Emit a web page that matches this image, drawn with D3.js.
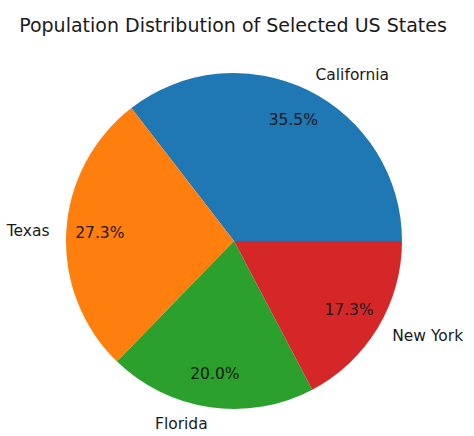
<!DOCTYPE html>
<html>
<head>
<meta charset="utf-8">
<script src="https://cdn.jsdelivr.net/npm/d3@7"></script>
<style>
  body { margin: 0; background: #fff; }
  svg text { font-family: "DejaVu Sans", sans-serif; fill: #1a1a1a; }
</style>
</head>
<body>
<div id="chart"></div>
<script>
// data
const states = ['California', 'Texas', 'Florida', 'New York'];
const shares = [35.5, 27.3, 20.0, 17.3];
const colors = ['#1f77b4', '#ff7f0e', '#2ca02c', '#d62728'];

const WIDTH = 474;
const HEIGHT = 436;
const CX = 234;
const CY = 241;
const R = 168;

const data = states.map((s, i) => ({ state: s, value: shares[i], color: colors[i] }));
const total = d3.sum(shares);

const $svg = d3.select('#chart').append('svg')
  .attr('width', WIDTH)
  .attr('height', HEIGHT);

$svg.append('text')
  .attr('x', CX - 1)
  .attr('y', 25)
  .attr('text-anchor', 'middle')
  .attr('dominant-baseline', 'central')
  .style('font-size', '19px')
  .text('Population Distribution of Selected US States');

// matplotlib style: start at 3 o'clock, go counterclockwise
const pie = d3.pie()
  .value(d => d.value)
  .sort(null)
  .startAngle(Math.PI / 2)
  .endAngle(Math.PI / 2 - 2 * Math.PI);

const arc = d3.arc().innerRadius(0).outerRadius(R);

const $vis = $svg.append('g').attr('transform', `translate(${CX},${CY})`);
const arcs = pie(data);

$vis.selectAll('path')
  .data(arcs)
  .join('path')
  .attr('d', arc)
  .attr('fill', d => d.data.color);

// d3 angle: 0 at 12 o'clock, clockwise
const pos = (d, k) => {
  const a = (d.startAngle + d.endAngle) / 2;
  return [Math.sin(a) * R * k, -Math.cos(a) * R * k];
};

$vis.selectAll('text.label')
  .data(arcs)
  .join('text')
  .attr('class', 'label')
  .attr('x', d => pos(d, 1.1)[0])
  .attr('y', d => pos(d, 1.1)[1])
  .attr('text-anchor', d => pos(d, 1)[0] > 0 ? 'start' : 'end')
  .attr('dominant-baseline', 'central')
  .style('font-size', '15.5px')
  .text(d => d.data.state);

$vis.selectAll('text.pct')
  .data(arcs)
  .join('text')
  .attr('class', 'pct')
  .attr('x', d => pos(d, 0.8)[0])
  .attr('y', d => pos(d, 0.8)[1])
  .attr('text-anchor', 'middle')
  .attr('dominant-baseline', 'central')
  .style('font-size', '15.5px')
  .text(d => d3.format('.1f')(d.data.value / total * 100) + '%');
</script>
</body>
</html>
